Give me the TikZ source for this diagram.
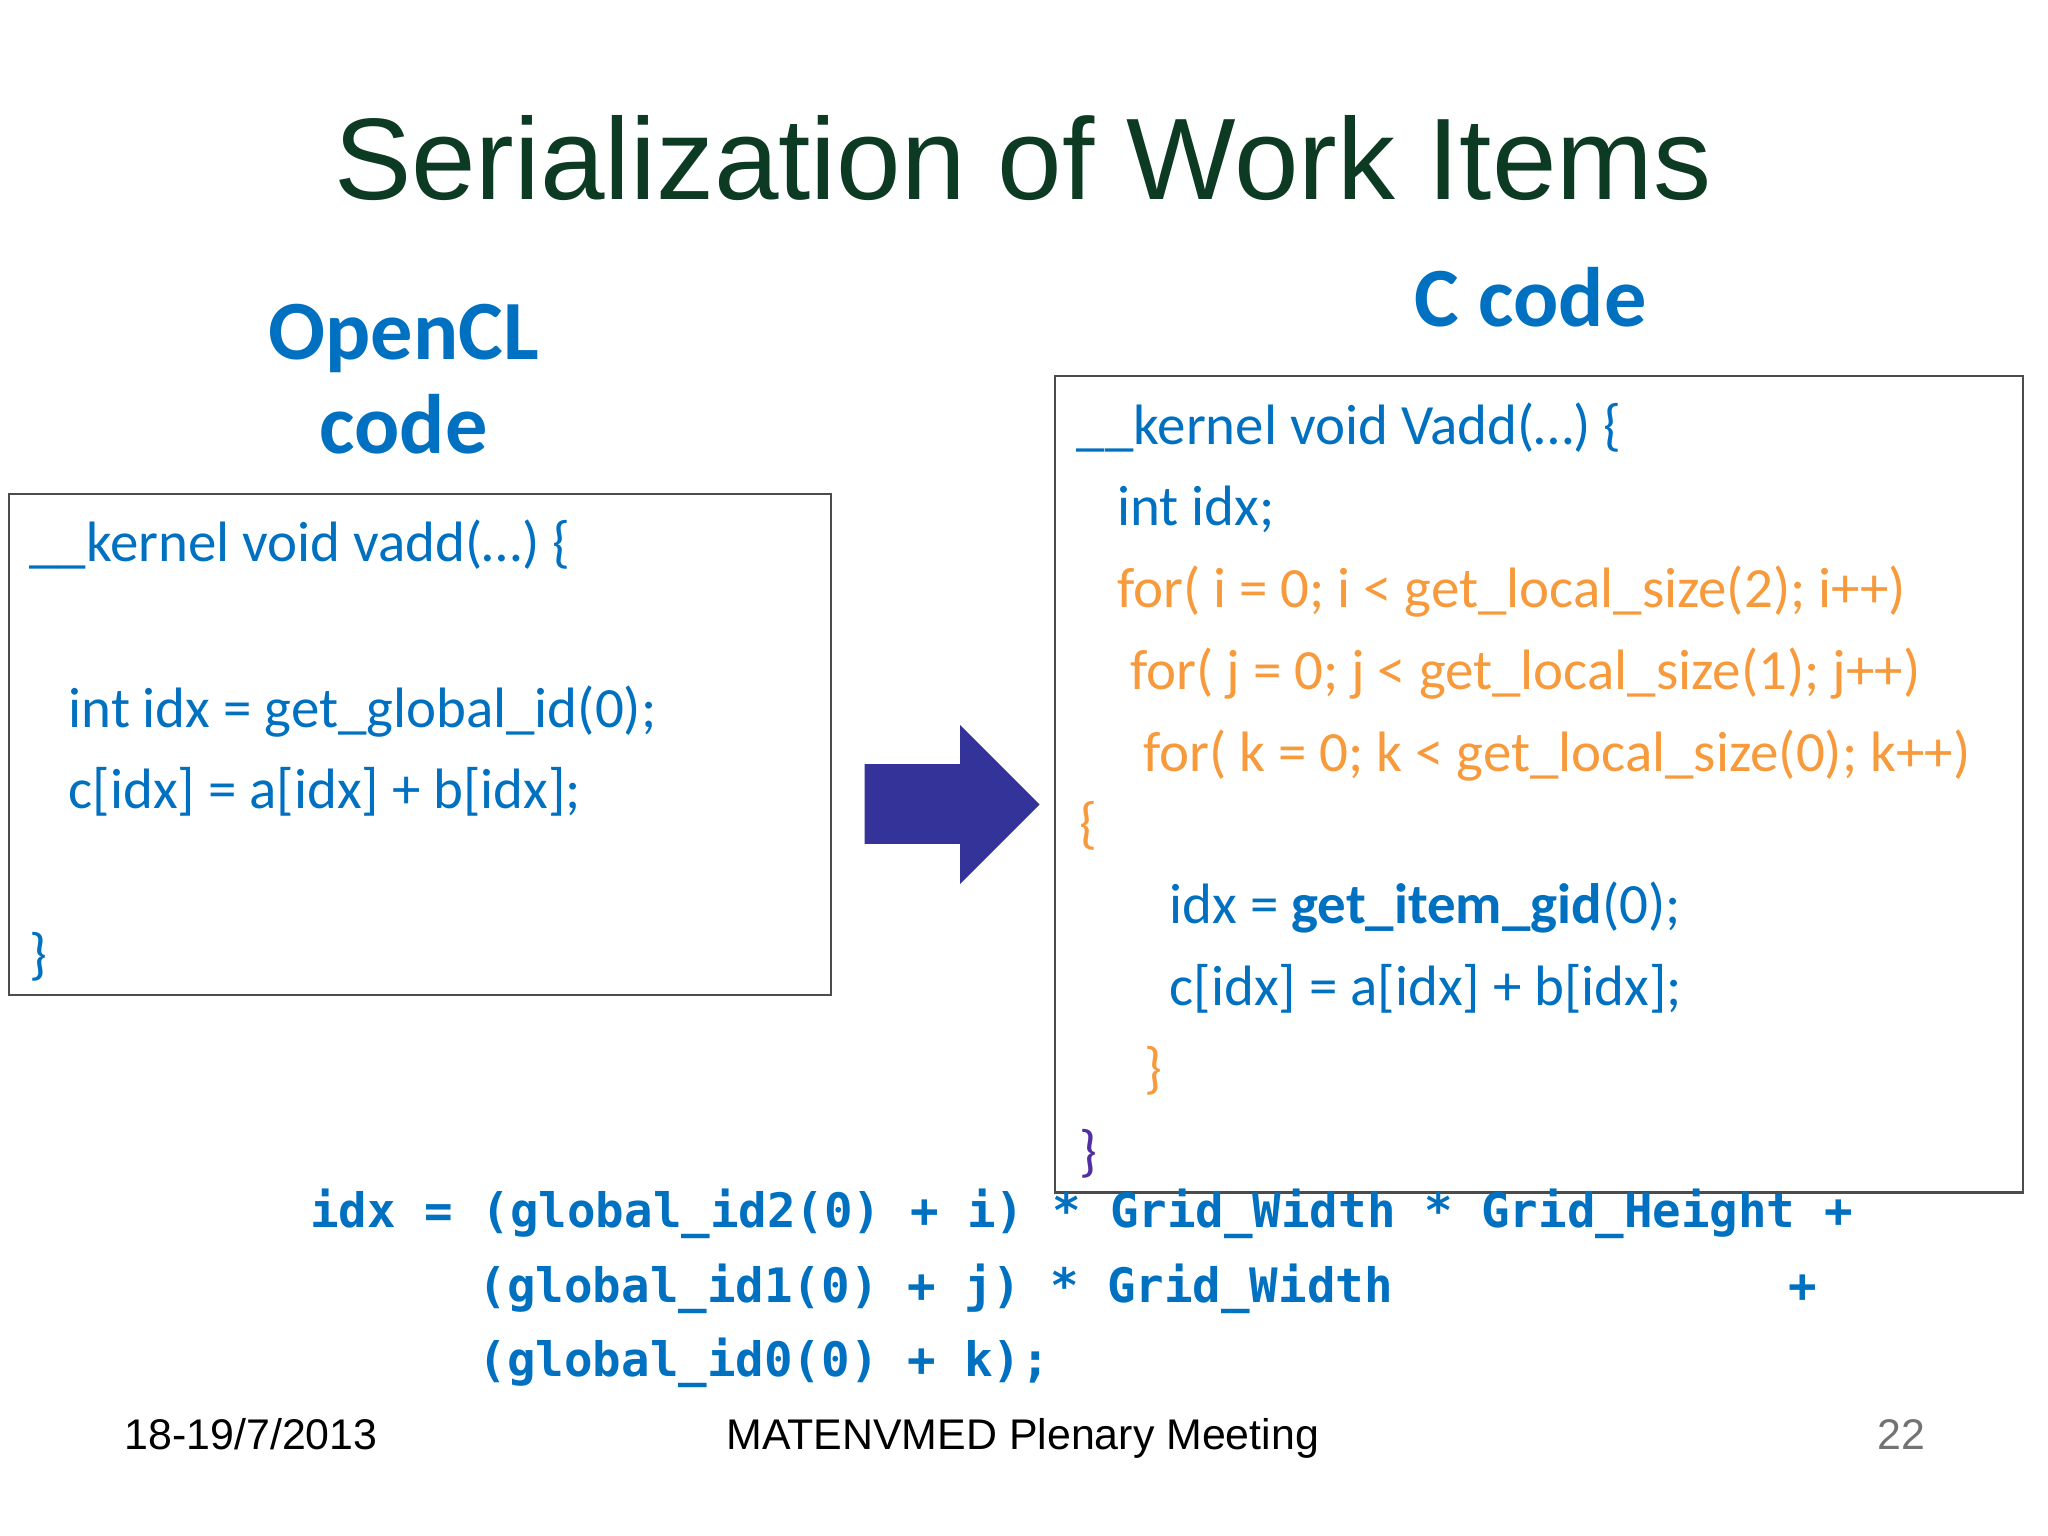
\documentclass[tikz,border=0pt]{standalone}
\usepackage{fontspec}
\setmainfont{Carlito}
\newfontfamily\arialf{Liberation Sans}
\setmonofont{DejaVu Sans Mono}
\begin{document}
\begin{tikzpicture}[x=0.01306cm,y=-0.01306cm,
 code/.style={anchor=base west,inner sep=0,font=\fontsize{16.2}{20}\selectfont,text=cblue},
 orng/.style={code,text=corange},
 mono/.style={anchor=base west,inner sep=0,font=\ttfamily\bfseries\fontsize{13.5}{15}\selectfont,text=cblue},
 head/.style={anchor=base,inner sep=0,font=\bfseries\fontsize{24}{30}\selectfont,text=cblue},
 foot/.style={anchor=base,inner sep=0,font=\arialf\fontsize{12.2}{16}\selectfont},
 box/.style={draw=black!70,line width=0.6pt}]
\definecolor{cblue}{HTML}{0070C0}
\definecolor{corange}{HTML}{F79A3C}
\definecolor{cgreen}{HTML}{0C3A22}
\definecolor{carrow}{HTML}{333399}
\definecolor{cpurple}{HTML}{5030A0}
\useasboundingbox (0,0) rectangle (1568,1176);
\node[anchor=base,inner sep=0,font=\arialf\fontsize{33}{40}\selectfont,text=cgreen] (title) at (783,153) {Serialization of Work Items};
\node[head] (h1) at (309,275) {OpenCL};
\node[head] (h2) at (309,347) {code};
\node[head] (h3) at (1172,250) {C code};
\draw[box] (7,378) rectangle (636,762);
\draw[box] (808,288) rectangle (1549,913);
\fill[carrow] (662,585) -- (735,585) -- (735,555) -- (796,616) -- (735,677) -- (735,646) -- (662,646) -- cycle;
\node[code] (l1) at (22,430) {\_\_kernel void vadd(…) \{};
\node[code] (l2) at (52,557) {int idx = get\_global\_id(0);};
\node[code] (l3) at (52,619) {c[idx] = a[idx] + b[idx];};
\node[code] (l4) at (22,745) {\}};
\node[code] (r1) at (824,340) {\_\_kernel void Vadd(…) \{};
\node[code] (r2) at (855,402) {int idx;};
\node[orng] (r3) at (855,465) {for( i = 0; i < get\_local\_size(2); i++)};
\node[orng] (r4) at (865,528) {for( j = 0; j < get\_local\_size(1); j++)};
\node[orng] (r5) at (875,591) {for( k = 0; k < get\_local\_size(0); k++)};
\node[orng] (r6) at (826,645) {\{};
\node[code] (r7) at (895,707) {idx = \textbf{get\_item\_gid}(0);};
\node[code] (r8) at (895,770) {c[idx] = a[idx] + b[idx];};
\node[orng] (r9) at (876,833) {\}};
\node[code,text=cpurple] (r10) at (826,896) {\}};
\node[mono] (m1) at (237,940) {idx = (global\_id2(0) + i) * Grid\_Width * Grid\_Height +};
\node[mono] (m2) at (366,997) {(global\_id1(0) + j) * Grid\_Width};
\node[mono] (m2p) at (1369,997) {+};
\node[mono] (m3) at (366,1054) {(global\_id0(0) + k);};
\node[foot,anchor=base west] (f1) at (95,1110) {18-19/7/2013};
\node[foot] (f2) at (783,1110) {MATENVMED Plenary Meeting};
\node[foot,text=black!55] (f3) at (1456,1110) {22};
\end{tikzpicture}
\end{document}
